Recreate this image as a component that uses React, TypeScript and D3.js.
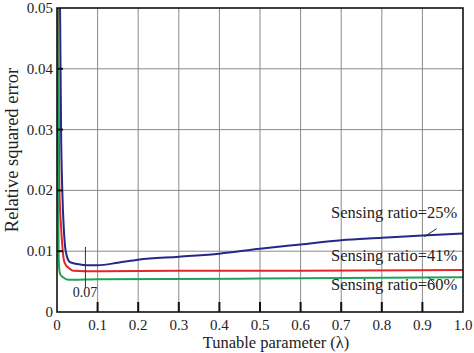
import React from "react"
import * as d3 from "d3"

// values: [lambda, relative squared error]
const ratio25: [number, number][] = [
  [0.0075, 0.05], [0.01, 0.03], [0.013, 0.02], [0.017, 0.0134], [0.02, 0.0107],
  [0.025, 0.009], [0.032, 0.0082], [0.05, 0.0079], [0.076, 0.0077], [0.1, 0.0077],
  [0.15, 0.0081], [0.2, 0.0086], [0.3, 0.0091], [0.4, 0.0096], [0.5, 0.0104],
  [0.6, 0.0111], [0.7, 0.0118], [0.8, 0.0122], [0.9, 0.0126], [1.0, 0.0129],
]
const ratio41: [number, number][] = [
  [0.003, 0.05], [0.0045, 0.03], [0.006, 0.02], [0.01, 0.014], [0.013, 0.011],
  [0.017, 0.0085], [0.022, 0.0077], [0.028, 0.0073], [0.04, 0.0068], [0.1, 0.0067],
  [0.3, 0.0068], [0.6, 0.0068], [1.0, 0.0069],
]
const ratio60: [number, number][] = [
  [0.0015, 0.05], [0.003, 0.02], [0.004, 0.01], [0.005, 0.0075], [0.008, 0.0062],
  [0.015, 0.0057], [0.028, 0.0053], [0.1, 0.0054], [0.5, 0.0055], [1.0, 0.0057],
]

const xTicks = [0, 0.1, 0.2, 0.3, 0.4, 0.5, 0.6, 0.7, 0.8, 0.9, 1.0]
const xTickLabels = ["0", "0.1", "0.2", "0.3", "0.4", "0.5", "0.6", "0.7", "0.8", "0.9", "1.0"]
const yTicks = [0, 0.01, 0.02, 0.03, 0.04, 0.05]
const yTickLabels = ["0", "0.01", "0.02", "0.03", "0.04", "0.05"]

const series = [
  { name: "Sensing ratio=25%", data: ratio25, color: "#27278a", labelY: 0.0155 },
  { name: "Sensing ratio=41%", data: ratio41, color: "#e3262a", labelY: 0.0084 },
  { name: "Sensing ratio=60%", data: ratio60, color: "#1ea358", labelY: 0.0037 },
]

const W = 474
const H = 353
const margin = { top: 8, right: 11, bottom: 41, left: 57 }
const font = "Liberation Serif, DejaVu Serif, Times New Roman, serif"

export default function App() {
  const x = d3.scaleLinear().domain([0, 1]).range([margin.left, W - margin.right])
  const y = d3.scaleLinear().domain([0, 0.05]).range([H - margin.bottom, margin.top])
  const line = d3
    .line<[number, number]>()
    .x((d) => x(d[0]))
    .y((d) => y(d[1]))
    .curve(d3.curveMonotoneX)

  const x0 = x(0), x1 = x(1), y0 = y(0), y1 = y(0.05)

  return (
    <svg width={W} height={H} style={{ position: "absolute", left: 0, top: 0, background: "#fff", fontFamily: font }}>
      <defs>
        <clipPath id="plot">
          <rect x={x0} y={y1} width={x1 - x0} height={y0 - y1} />
        </clipPath>
      </defs>
      {/* grid */}
      {xTicks.slice(1, -1).map((t) => (
        <line key={"gx" + t} x1={x(t)} x2={x(t)} y1={y1} y2={y0} stroke="#8a8a8a" strokeWidth={1} />
      ))}
      {yTicks.slice(1, -1).map((t) => (
        <line key={"gy" + t} x1={x0} x2={x1} y1={y(t)} y2={y(t)} stroke="#8a8a8a" strokeWidth={1} />
      ))}
      {/* curves */}
      <g clipPath="url(#plot)">
        {series.map((s) => (
          <path key={s.name} d={line(s.data) || ""} fill="none" stroke={s.color} strokeWidth={2} />
        ))}
      </g>
      {/* frame */}
      <rect x={x0} y={y1} width={x1 - x0} height={y0 - y1} fill="none" stroke="#111" strokeWidth={1.6} />
      {/* ticks */}
      {xTicks.slice(1, -1).map((t) => (
        <line key={"tx" + t} x1={x(t)} x2={x(t)} y1={y0} y2={y0 - 10} stroke="#111" strokeWidth={2} />
      ))}
      {yTicks.slice(1, -1).map((t) => (
        <line key={"ty" + t} x1={x0} x2={x0 + 6} y1={y(t)} y2={y(t)} stroke="#111" strokeWidth={2} />
      ))}
      {/* tick labels */}
      {xTicks.map((t, i) => (
        <text key={"lx" + t} x={x(t)} y={y0 + 18} textAnchor="middle" fontSize={15} fill="#222">
          {xTickLabels[i]}
        </text>
      ))}
      {yTicks.map((t, i) => (
        <text key={"ly" + t} x={x0 - 4} y={y(t) + 5} textAnchor="end" fontSize={15} fill="#222">
          {yTickLabels[i]}
        </text>
      ))}
      {/* axis titles */}
      <text x={276} y={348} textAnchor="middle" fontSize={16.5} fill="#222">
        Tunable parameter (λ)
      </text>
      <text transform="translate(18,150) rotate(-90)" textAnchor="middle" fontSize={18.5} fill="#222">
        Relative squared error
      </text>
      {/* annotation at lambda = 0.07 */}
      <line x1={x(0.07)} x2={x(0.07)} y1={y(0.0107)} y2={y(0.0039)} stroke="#333" strokeWidth={1} />
      <text x={x(0.07) - 0.5} y={y(0.0024)} textAnchor="middle" fontSize={14} fill="#222">0.07</text>
      {/* series labels */}
      {series.map((s) => (
        <text key={"t" + s.name} x={x(0.675)} y={y(s.labelY)} fontSize={16.5} fill="#222">
          {s.name}
        </text>
      ))}
      <line x1={x(0.935)} x2={x(0.905)} y1={y(0.0137)} y2={y(0.0124)} stroke="#222" strokeWidth={1} />
      <line x1={x(0.915)} x2={x(0.93)} y1={y(0.0057)} y2={y(0.0047)} stroke="#222" strokeWidth={1} />
    </svg>
  )
}
